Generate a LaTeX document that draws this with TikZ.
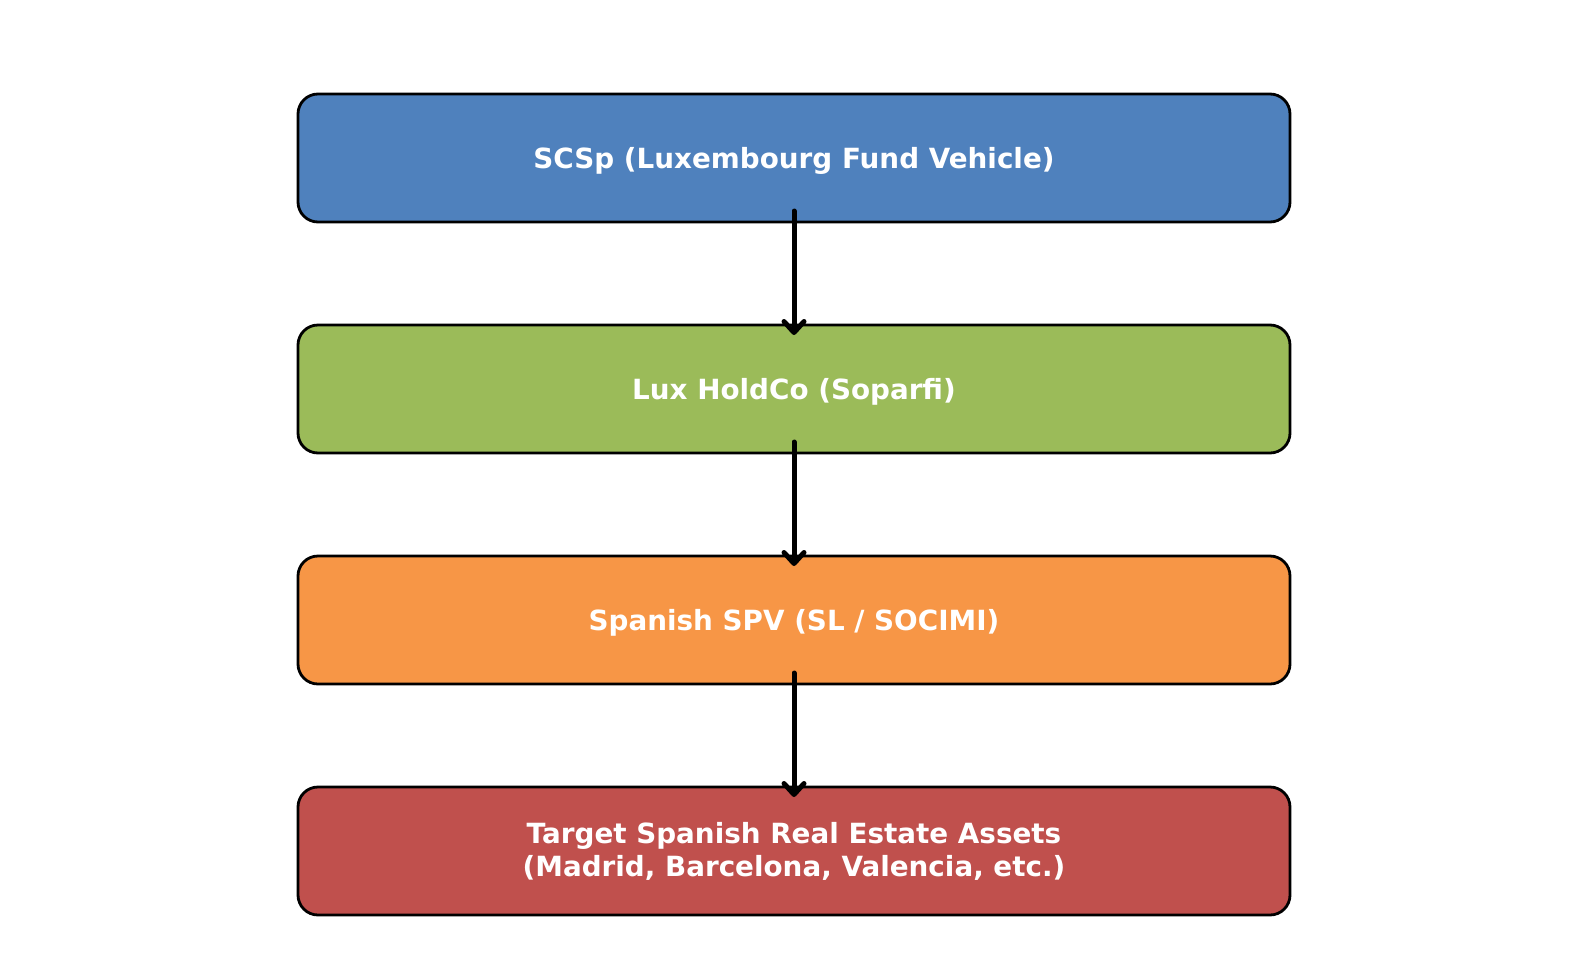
\documentclass[tikz,border=0pt]{standalone}
\usepackage{fontspec}
\setmainfont{DejaVu Sans}
\usepackage{tikz}
\usetikzlibrary{arrows.meta, positioning}

\definecolor{fundblue}{HTML}{4F81BD}
\definecolor{holdgreen}{HTML}{9BBB59}
\definecolor{spvorange}{HTML}{F79646}
\definecolor{assetred}{HTML}{C0504D}

\newcommand{\lowered}[1]{\raisebox{0pt}[\dimexpr\height+6pt][\depth]{#1}}

\begin{document}
\begin{tikzpicture}[x=1pt, y=1pt,
    entity/.style={draw=black, line width=2.8pt, rounded corners=20pt, outer sep=0pt,
        minimum width=992pt, minimum height=128pt, align=center, text=white,
        font=\fontsize{27.8}{33}\selectfont\bfseries},
    link/.style={-{Straight Barb[round, length=11pt, width=20pt]}, line width=5pt, line cap=round},
    node distance=103pt]
    \useasboundingbox (0,0) rectangle (1589,-964);

    \node[entity, fill=fundblue] (scsp) at (794,-158) {\lowered{SCSp (Luxembourg Fund Vehicle)}};
    \node[entity, fill=holdgreen, below=of scsp] (holdco) {\lowered{Lux HoldCo (Soparfi)}};
    \node[entity, fill=spvorange, below=of holdco] (spv) {\lowered{Spanish SPV (SL / SOCIMI)}};
    \node[entity, fill=assetred, below=of spv] (assets) {Target Spanish Real Estate Assets\\(Madrid, Barcelona, Valencia, etc.)};

    % ownership chain
    \draw[link] ([yshift=11pt]scsp.south) -- ([yshift=-10pt]holdco.north);
    \draw[link] ([yshift=11pt]holdco.south) -- ([yshift=-10pt]spv.north);
    \draw[link] ([yshift=11pt]spv.south) -- ([yshift=-10pt]assets.north);
\end{tikzpicture}
\end{document}
